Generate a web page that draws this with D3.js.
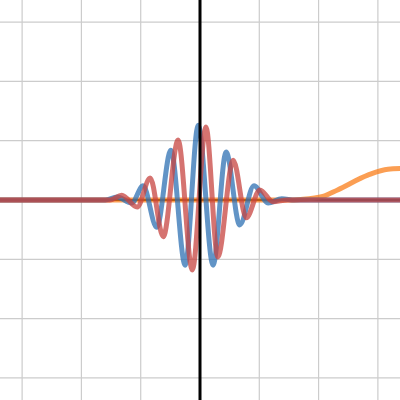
<!DOCTYPE html>
<html><head><meta charset="utf-8">
<script src="https://cdn.jsdelivr.net/npm/d3@7"></script>
<style>body{margin:0;background:#fff}</style>
</head><body>
<div id="chart"></div>
<script>
// extrema, in grid units
var blueX = [-3.4,-1.60,-1.40,-1.15,-0.96,-0.73,-0.49,-0.25,-0.03,0.22,0.44,0.67,0.91,1.15,1.38,1.60,3.4];
var blueY = [0,0,0.05,-0.05,0.24,-0.46,0.84,-1.10,1.26,-1.10,0.81,-0.42,0.24,-0.05,0.02,0,0];
var redX = [-3.4,-1.52,-1.32,-1.06,-0.84,-0.62,-0.37,-0.13,0.10,0.30,0.56,0.78,1.01,1.23,1.48,3.4];
var redY = [0,0,0.08,-0.12,0.37,-0.62,1.01,-1.18,1.23,-0.96,0.67,-0.30,0.17,-0.03,0,0];
var orangeX = [-3.4,1.5,1.7,2.07,2.32,2.83,3.17,3.4];
var orangeY = [0,0,0.01,0.06,0.17,0.42,0.52,0.53];
var gridTicks = [-3,-2,-1,0,1,2,3];

var W = 400, H = 400;
var svg = d3.select("#chart").append("svg")
  .attr("width", W).attr("height", H);

var x = d3.scaleLinear().domain([-3.373, 3.373]).range([0, W]);
var y = d3.scaleLinear().domain([-3.373, 3.373]).range([H, 0]);

// grid
svg.selectAll("line.vx").data(gridTicks).enter().append("line")
  .attr("x1", function(d){ return x(d); }).attr("x2", function(d){ return x(d); })
  .attr("y1", 0).attr("y2", H)
  .style("stroke", "#ccc").style("stroke-width", 1.2);
svg.selectAll("line.hy").data(gridTicks).enter().append("line")
  .attr("y1", function(d){ return y(d); }).attr("y2", function(d){ return y(d); })
  .attr("x1", 0).attr("x2", W)
  .style("stroke", "#ccc").style("stroke-width", 1.2);

// x axis
svg.append("line").attr("x1", 0).attr("x2", W).attr("y1", y(0)).attr("y2", y(0))
  .style("stroke", "#000").style("stroke-width", 2);

var line = d3.line().x(function(d){ return x(d[0]); }).y(function(d){ return y(d[1]); })
  .curve(d3.curveMonotoneX);

function draw(xs, ys, col) {
  svg.append("path").datum(d3.zip(xs, ys))
    .attr("d", line)
    .style("fill", "none").style("stroke", col)
    .style("stroke-width", 5).style("stroke-opacity", 0.75)
    .style("stroke-linejoin", "round").style("stroke-linecap", "round");
}
draw(orangeX, orangeY, "#fa7e19");
draw(blueX, blueY, "#2d70b3");
draw(redX, redY, "#c74440");

// y axis on top
svg.append("line").attr("x1", x(0)).attr("x2", x(0)).attr("y1", 0).attr("y2", H)
  .style("stroke", "#000").style("stroke-width", 3);
</script>
</body></html>
